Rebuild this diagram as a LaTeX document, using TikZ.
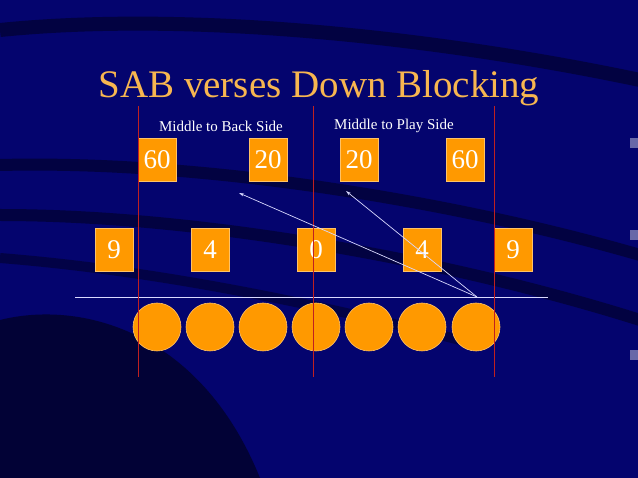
\documentclass[tikz,border=0pt]{standalone}
\usepackage{fontspec}
\usetikzlibrary{arrows.meta}
\setmainfont{Liberation Serif}
\definecolor{bg}{HTML}{04046E}
\definecolor{band}{HTML}{020236}
\definecolor{org}{HTML}{FF9900}
\definecolor{ttl}{HTML}{F7B650}
\definecolor{redl}{HTML}{C02020}
\begin{document}
\begin{tikzpicture}[x=1pt,y=-1pt,
  box/.style={fill=org,draw=org!60!white,line width=0.6pt,minimum width=38pt,minimum height=43pt,inner sep=0pt,text=white,font=\fontsize{27}{27}\selectfont},
  man/.style={circle,fill=org,draw=org!60!white,line width=0.6pt,minimum size=48pt,inner sep=0pt},
  lbl/.style={text=white,font=\fontsize{15}{15}\selectfont},
  vline/.style={draw=redl,line width=1pt},
  arr/.style={draw=white!85!blue,line width=0.7pt,-{Stealth[length=5pt,width=3pt]}}]
\useasboundingbox (0,0) rectangle (638,478);
\fill[bg] (0,0) rectangle (638,478);
% background swooshes
\begin{scope}
\clip (0,0) rectangle (638,478);
\fill[band] (0,478) -- (0,320) .. controls (80,300) and (200,330) .. (260,478) -- cycle;
\draw[band,line width=14pt,opacity=0.8] (0,30) .. controls (200,10) and (450,40) .. (640,80);
\draw[band,line width=12pt,opacity=0.8] (0,165) .. controls (200,160) and (450,200) .. (640,255);
\draw[band,line width=12pt,opacity=0.8] (0,215) .. controls (200,215) and (450,260) .. (640,320);
\draw[band,line width=10pt,opacity=0.7] (0,258) .. controls (150,270) and (300,300) .. (460,340);
\fill[white!40!bg] (630,138) rectangle (638,148);
\fill[white!40!bg] (630,230) rectangle (638,240);
\fill[white!40!bg] (630,350) rectangle (638,360);
\end{scope}
\node[text=ttl,font=\fontsize{39}{39}\selectfont] (title) at (319,88) {SAB verses Down Blocking};
\node[lbl] (l1) at (221,126) {Middle to Back Side};
\node[lbl] (l2) at (394,126) {Middle to Play Side};
\node[box] (a60) at (157,160) {60};
\node[box] (a20) at (268,160) {20};
\node[box] (b20) at (359,160) {20};
\node[box] (b60) at (465,160) {60};
\node[box] (n9a) at (114,250) {9};
\node[box] (n4a) at (210,250) {4};
\node[box] (n0) at (316,250) {0};
\node[box] (n4b) at (422,250) {4};
\node[box] (n9b) at (513,250) {9};
\coordinate (hl) at (75,297);
\coordinate (hr) at (548,297);
\draw[white!85!blue,line width=0.6pt] (hl) -- (hr);
\foreach \i/\x in {1/157,2/210,3/263,4/316,5/369,6/422,7/476}
  \node[man] (c\i) at (\x,327) {};
\foreach \i/\x in {1/138,2/313.5,3/494}{
  \coordinate (t\i) at (\x,106);
  \coordinate (b\i) at (\x,377);
  \draw[vline] (t\i) -- (b\i);}
\coordinate (s) at (477,297);
\coordinate (e1) at (239,193);
\coordinate (e2) at (346,191);
\draw[arr] (s) -- (e1);
\draw[arr] (s) -- (e2);
\end{tikzpicture}
\end{document}
